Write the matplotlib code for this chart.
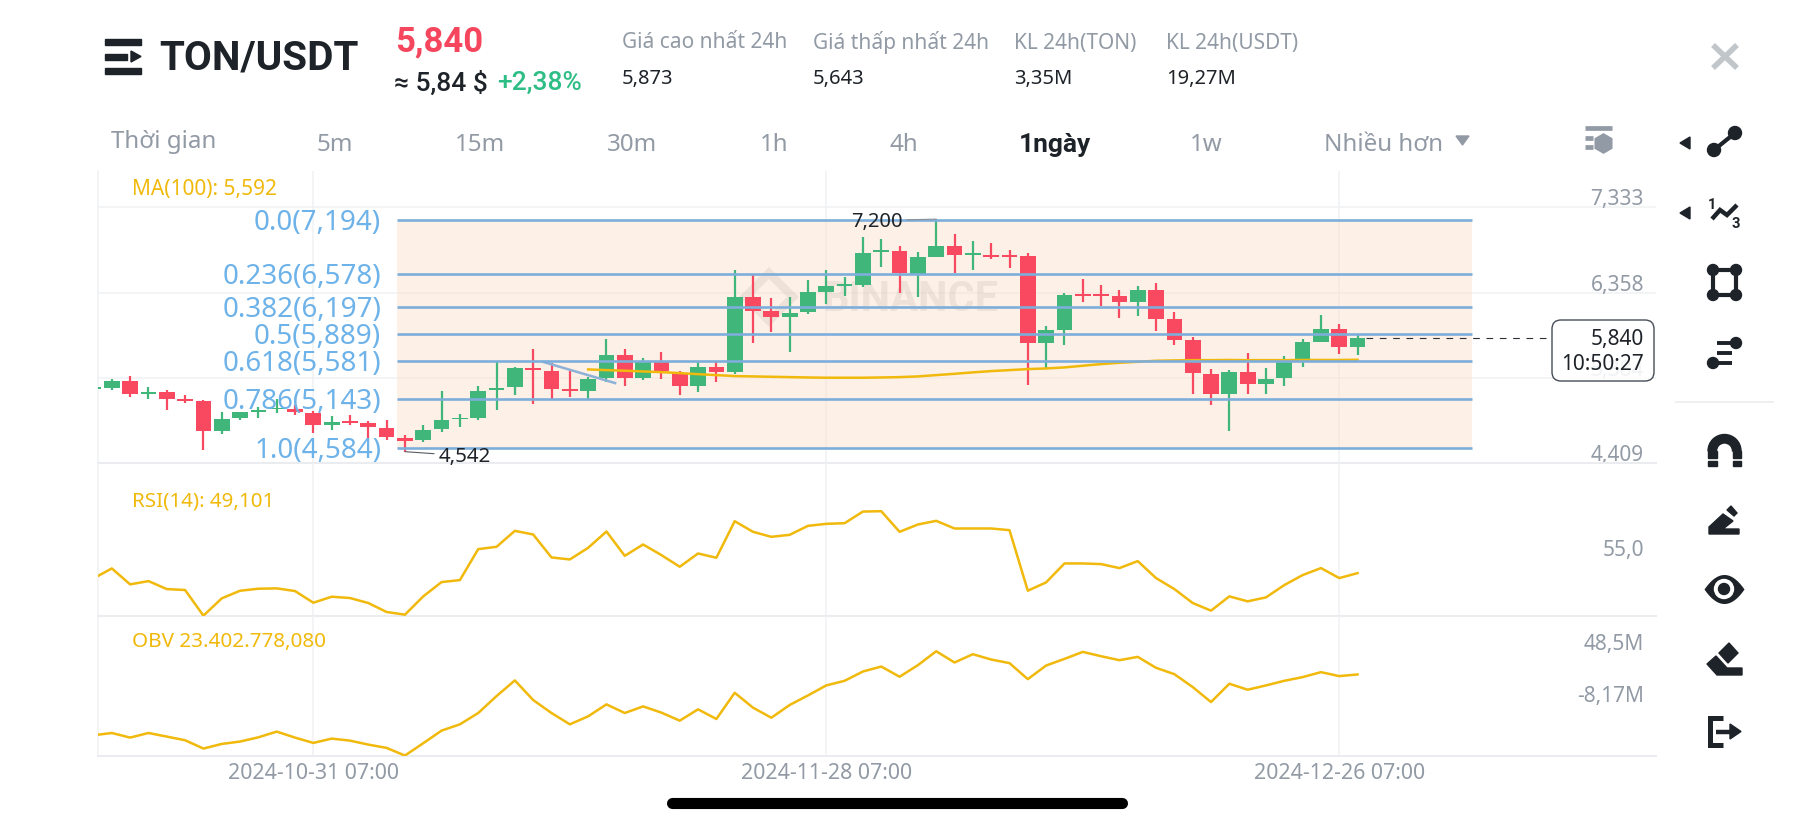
import numpy as np
import matplotlib
matplotlib.use("Agg")
import matplotlib.pyplot as plt
from matplotlib.patches import Circle, FancyBboxPatch, Polygon, Rectangle, Wedge
from matplotlib.transforms import ScaledTranslation

plt.rcParams['font.family'] = ['Noto Sans', 'DejaVu Sans']
BOLD = ['Roboto', 'DejaVu Sans']

# daily candles, index 12 / 40 / 68 are the dated gridlines
opens = [5.257, 5.272, 5.352, 5.196, 5.219, 5.143, 5.124, 4.778, 4.926, 4.999,
         5.025, 5.025, 4.983, 4.850, 4.892, 4.869, 4.812, 4.698, 4.671, 4.801,
         4.911, 4.930, 5.250, 5.276, 5.493, 5.467, 5.257, 5.238, 5.383, 5.645,
         5.383, 5.573, 5.440, 5.291, 5.505, 5.451, 6.311, 6.148, 6.079, 6.136,
         6.372, 6.433, 6.452, 6.825, 6.833, 6.574, 6.772, 6.890, 6.791, 6.794,
         6.794, 6.775, 5.779, 5.938, 6.345, 6.342, 6.326, 6.247, 6.387, 6.056,
         5.813, 5.432, 5.200, 5.448, 5.311, 5.383, 5.592, 5.798, 5.942, 5.733]
closes = [5.276, 5.352, 5.196, 5.219, 5.143, 5.124, 4.778, 4.919, 4.991, 5.021,
          5.040, 4.999, 4.850, 4.884, 4.869, 4.823, 4.706, 4.667, 4.789, 4.900,
          4.930, 5.234, 5.269, 5.493, 5.474, 5.257, 5.238, 5.375, 5.645, 5.383,
          5.573, 5.467, 5.288, 5.505, 5.451, 6.311, 6.155, 6.079, 6.132, 6.368,
          6.433, 6.456, 6.817, 6.848, 6.589, 6.768, 6.890, 6.791, 6.813, 6.772,
          6.772, 5.779, 5.935, 6.338, 6.323, 6.319, 6.247, 6.387, 6.060, 5.820,
          5.440, 5.200, 5.448, 5.314, 5.375, 5.573, 5.794, 5.942, 5.733, 5.840]
highs = [5.280, 5.375, 5.406, 5.284, 5.246, 5.185, 5.132, 4.995, 4.995, 5.052,
         5.147, 5.071, 5.010, 4.945, 4.957, 4.888, 4.907, 4.732, 4.846, 5.234,
         4.976, 5.291, 5.577, 5.512, 5.718, 5.554, 5.463, 5.394, 5.832, 5.718,
         5.615, 5.680, 5.467, 5.584, 5.584, 6.623, 6.562, 6.296, 6.311, 6.505,
         6.616, 6.536, 6.996, 6.977, 6.890, 6.821, 7.200, 7.030, 6.950, 6.928,
         6.848, 6.813, 5.973, 6.357, 6.517, 6.452, 6.395, 6.433, 6.467, 6.144,
         5.858, 5.489, 5.470, 5.668, 5.497, 5.634, 5.832, 6.102, 6.003, 5.873]
lows = [5.246, 5.246, 5.166, 5.147, 5.014, 5.094, 4.561, 4.740, 4.903, 4.930,
        4.983, 4.957, 4.755, 4.793, 4.850, 4.702, 4.675, 4.542, 4.648, 4.763,
        4.827, 4.903, 5.021, 5.185, 5.090, 5.128, 5.170, 5.147, 5.337, 5.291,
        5.360, 5.368, 5.185, 5.223, 5.333, 5.432, 5.779, 5.912, 5.683, 6.110,
        6.231, 6.319, 6.422, 6.657, 6.353, 6.311, 6.772, 6.585, 6.619, 6.745,
        6.642, 5.299, 5.497, 5.763, 6.258, 6.212, 6.072, 6.098, 5.916, 5.760,
        5.196, 5.075, 4.774, 5.204, 5.196, 5.291, 5.508, 5.794, 5.653, 5.643]

ma_start = 27
ma100 = [5.482, 5.474, 5.467, 5.459, 5.451, 5.440, 5.428, 5.417, 5.406, 5.402,
         5.398, 5.394, 5.390, 5.387, 5.387, 5.387, 5.390, 5.394, 5.402, 5.417,
         5.432, 5.448, 5.463, 5.474, 5.486, 5.493, 5.505, 5.524, 5.543, 5.558,
         5.569, 5.581, 5.585, 5.588, 5.588, 5.590, 5.588, 5.588, 5.588, 5.590,
         5.590, 5.590, 5.592]

rsi = [47.88, 50.17, 46.50, 47.26, 45.42, 45.20, 39.30, 43.28, 45.04, 45.50,
       45.58, 44.97, 42.28, 43.66, 43.36, 42.21, 40.14, 39.53, 43.74, 47.03,
       47.49, 54.62, 55.15, 58.83, 57.99, 52.70, 52.24, 54.92, 58.68, 53.08,
       55.69, 53.24, 50.56, 53.62, 52.63, 61.05, 58.60, 57.45, 57.91, 59.98,
       60.44, 60.59, 63.27, 63.35, 58.60, 60.29, 61.13, 59.37, 59.37, 59.37,
       58.98, 45.04, 46.96, 51.32, 51.32, 51.17, 50.25, 51.86, 47.95, 45.42,
       42.21, 40.45, 43.74, 42.59, 43.51, 46.34, 48.64, 50.25, 47.95, 49.10]

obv = [-54.4, -51.9, -56.9, -51.9, -55.8, -59.8, -68.8, -63.8, -61.2, -56.6,
       -50.4, -56.9, -62.7, -58.0, -60.2, -64.5, -68.1, -76.4, -63.0, -49.3,
       -42.5, -30.2, -11.8, 5.2, -16.1, -30.2, -42.5, -33.8, -20.8, -30.2,
       -23.0, -29.8, -38.5, -26.2, -36.7, -8.2, -24.4, -35.3, -21.5, -11.1,
       -0.2, 4.8, 14.9, 20.3, 9.2, 21.8, 36.9, 24.7, 33.7, 27.9,
       24.0, 6.6, 21.4, 28.6, 36.2, 31.5, 27.2, 30.8, 18.9, 12.0,
       -2.0, -18.3, 1.6, -4.9, -0.2, 4.8, 8.8, 14.2, 9.9, 11.7]

fib_ratios = ['0.0', '0.236', '0.382', '0.5', '0.618', '0.786', '1.0']
fib_prices = [7.194, 6.578, 6.197, 5.889, 5.581, 5.143, 4.584]
fib_start, fib_end = 16.57, 75.24
trend_x = [24.57, 28.47]
trend_y = [5.566, 5.326]

date_ticks = [12, 40, 68]
date_labels = ['2024-10-31 07:00', '2024-11-28 07:00', '2024-12-26 07:00']
price_ticks = [7.333, 6.358, 5.384, 4.409]
rsi_ticks = [55.0]
obv_ticks = [48.5, -8.17]
obv_tick_labels = ['48,5M', '-8,17M']

DARK = '#1E2329'
GRAY = '#929AA5'
GOLD = '#F0B90B'
RED = '#F84960'
GREEN = '#41B67A'
TEXT_RED = '#F6465D'
TEXT_GREEN = '#2EBD85'
BLUE = '#7DAEDB'
BLUE_TEXT = '#6DB2E8'
GRID = '#F0F1F3'
SEP = '#EAECEF'

W, H = 1793, 828


def comma(value, digits=3):
    return f"{value:.{digits}f}".replace('.', ',')


fig = plt.figure(figsize=(W / 100, H / 100), dpi=100, facecolor='white')


def make_pane(top, bottom, ylim, ticks, labels):
    left, right = 98, 1656
    ax = fig.add_axes([left / W, 1 - bottom / H, (right - left) / W, (bottom - top) / H])
    ax.set_xlim((left - 93.5) / 18.32, (right - 93.5) / 18.32)
    ax.set_ylim(*ylim)
    ax.set_xticks(date_ticks)
    ax.set_xticklabels([])
    ax.yaxis.tick_right()
    ax.set_yticks(ticks)
    ax.set_yticklabels(labels, ha='right', color=GRAY, fontsize=15)
    ax.tick_params(axis='y', length=0, pad=-8.6)
    ax.tick_params(axis='x', length=0)
    ax.xaxis.grid(True, color=GRID, lw=1.1)
    for side in ['top', 'right']:
        ax.spines[side].set_visible(False)
    ax.spines['left'].set_color(GRID)
    ax.spines['left'].set_linewidth(1.1)
    ax.spines['bottom'].set_color(SEP)
    ax.spines['bottom'].set_linewidth(1.5)
    ax.set_axisbelow(True)
    ax.patch.set_alpha(0)
    return ax


chrome = fig.add_axes([0, 0, 1, 1], zorder=10)
chrome.set_xlim(0, W)
chrome.set_ylim(H, 0)
chrome.axis('off')

ax_price = make_pane(172, 464.3, (4.413, 7.750), price_ticks, [comma(t) for t in price_ticks])
ax_rsi = make_pane(464.3, 617, (39.22, 74.38), rsi_ticks, [comma(t, 1) for t in rsi_ticks])
ax_obv = make_pane(617, 757, (-76.9, 75.2), obv_ticks, obv_tick_labels)

ax_price.yaxis.grid(True, color=GRID, lw=1.1)
nudge = ScaledTranslation(0, -2 / 100, fig.dpi_scale_trans)
for label in ax_price.get_yticklabels():
    label.set_verticalalignment('bottom')
    label.set_transform(label.get_transform() + nudge)
ax_obv.set_xticklabels(date_labels, color=GRAY, fontsize=15.4)
ax_obv.tick_params(axis='x', pad=4)

# price pane
ax_price.add_patch(Rectangle((fib_start, fib_prices[-1]), fib_end - fib_start,
                             fib_prices[0] - fib_prices[-1],
                             facecolor='#FAE0CC', alpha=0.46, edgecolor='none', zorder=1))

ax_price.text(910, 300, 'BINANCE', transform=chrome.transData, color='#B9AFA6', alpha=0.22,
              fontsize=30, family=BOLD, fontweight='bold', ha='center', va='center', zorder=1.5)
ax_price.plot([769], [298], marker='D', ms=24, mfc='none', mec='#B9AFA6', mew=6, alpha=0.22,
              transform=chrome.transData, clip_on=False, zorder=1.5)

xs = np.arange(len(opens))
colors = [GREEN if c >= o else RED for o, c in zip(opens, closes)]
ax_price.vlines(xs, lows, highs, colors=colors, lw=1.6, zorder=3)
ax_price.bar(xs, np.abs(np.array(closes) - np.array(opens)), bottom=np.minimum(opens, closes),
             width=0.86, color=colors, zorder=3.1)

ax_price.plot(np.arange(len(ma100)) + ma_start, ma100, color=GOLD, lw=1.8, zorder=4)
ax_price.plot(trend_x, trend_y, color='#8DB1D6', lw=1.8, zorder=4.5)

ax_price.hlines(fib_prices, fib_start, fib_end, colors=BLUE, lw=1.9, zorder=5)
for ratio, price in zip(fib_ratios, fib_prices):
    ax_price.annotate(f"{ratio}({comma(price)})", (fib_start, price), xytext=(-11.5, -1.5),
                      textcoords='offset points', ha='right', va='center',
                      color=BLUE_TEXT, fontsize=20, zorder=6, annotation_clip=False)

# high / low notes
ax_price.annotate('7,200', (46, highs[46]), xytext=(-24, -1), textcoords='offset points',
                  ha='right', va='center', color=DARK, fontsize=14.5, zorder=7,
                  arrowprops=dict(arrowstyle='-', color='#8A9099', lw=0.8, shrinkA=1, shrinkB=0))
ax_price.annotate('4,542', (17, lows[17]), xytext=(24, -3), textcoords='offset points',
                  ha='left', va='center', color=DARK, fontsize=14.8, zorder=7,
                  arrowprops=dict(arrowstyle='-', color='#555B63', lw=0.8, shrinkA=1, shrinkB=0))

ax_price.hlines(closes[-1], 69.45, 79.56, colors='#2B2F36', lw=0.8, linestyles=(0, (6, 6)), zorder=5.5)

ax_rsi.plot(xs, rsi, color=GOLD, lw=1.8, zorder=4)
ax_obv.plot(xs, obv, color=GOLD, lw=1.8, zorder=4)

chrome.text(132, 189, f"MA(100): {comma(ma100[-1])}", color=GOLD, fontsize=15, va='center')
chrome.text(132, 502, f"RSI(14): {comma(rsi[-1] + 0.001)}", color=GOLD, fontsize=14.8, va='center')
chrome.text(132, 642, 'OBV 23.402.778,080', color=GOLD, fontsize=14.9, va='center')

# price tag
chrome.add_patch(FancyBboxPatch((1552, 321), 102, 61, boxstyle='round,pad=0,rounding_size=9',
                                facecolor=(1, 1, 1, 0.88), edgecolor='#474D57', lw=1.0))
chrome.text(1644, 340, comma(closes[-1]), ha='right', va='center', color=DARK, fontsize=15)
chrome.text(1644, 365, '10:50:27', ha='right', va='center', color=DARK, fontsize=15)

# header
chrome.add_patch(Rectangle((105, 40), 36, 6, color=DARK))
chrome.add_patch(Rectangle((105, 55), 22, 6, color=DARK))
chrome.add_patch(Rectangle((105, 69), 36, 6, color=DARK))
chrome.add_patch(Polygon([(131, 52), (141, 57.5), (131, 63)], color=DARK))
chrome.text(159, 59, 'TON/USDT', color=DARK, fontsize=29.2, family=BOLD, fontweight='bold', va='center')
chrome.text(395, 42, comma(closes[-1]), color=TEXT_RED, fontsize=25, family=BOLD, fontweight='bold', va='center')
chrome.text(394, 83, '≈ 5,84 $', color=DARK, fontsize=19, family=BOLD, fontweight='medium', va='center')
chrome.text(497, 83, '+2,38%', color=TEXT_GREEN, fontsize=19, family=BOLD, fontweight='medium', va='center')

stat_x = [622, 813, 1014, 1166]
stat_names = ['Giá cao nhất 24h', 'Giá thấp nhất 24h', 'KL 24h(TON)', 'KL 24h(USDT)']
stat_values = ['5,873', '5,643', '3,35M', '19,27M']
for x, name, value in zip(stat_x, stat_names, stat_values):
    chrome.text(x, 43, name, color=GRAY, fontsize=15, va='center')
    chrome.text(x, 79, value, color=DARK, fontsize=14.5, va='center')

# interval row
chrome.text(111, 142, 'Thời gian', color=GRAY, fontsize=17.4, va='center')
interval_x = [335, 480, 632, 774, 904, 1206]
interval_names = ['5m', '15m', '30m', '1h', '4h', '1w']
for x, name in zip(interval_x, interval_names):
    chrome.text(x, 145, name, color=GRAY, fontsize=17.4, va='center', ha='center')
chrome.text(1055, 145, '1ngày', color=DARK, fontsize=19, family=BOLD, fontweight='bold', va='center', ha='center')
chrome.text(1324, 145, 'Nhiều hơn', color=GRAY, fontsize=17.4, va='center')
chrome.add_patch(Polygon([(1456, 137), (1469, 137), (1462.5, 146)], color=GRAY))

# settings icon
chrome.plot([1585, 1612], [129, 129], color=GRAY, lw=3.4, solid_capstyle='butt')
chrome.plot([1585, 1593], [139, 139], color=GRAY, lw=3.4, solid_capstyle='butt')
chrome.plot([1585, 1593], [148, 148], color=GRAY, lw=3.4, solid_capstyle='butt')
chrome.plot([1603], [144], marker='h', ms=15, color=GRAY, mew=0)
chrome.add_patch(Circle((1603, 144), 3.5, color='white'))

# toolbar
chrome.plot([1713, 1737], [46, 69], color='#C1C6CB', lw=4, solid_capstyle='butt')
chrome.plot([1713, 1737], [69, 46], color='#C1C6CB', lw=4, solid_capstyle='butt')
for y in [144, 214]:
    chrome.add_patch(Polygon([(1680, y), (1690, y - 6), (1690, y + 6)], color=DARK))

chrome.plot([1714, 1735], [151, 134], color=DARK, lw=3)
chrome.add_patch(Circle((1714, 151), 6.5, color=DARK))
chrome.add_patch(Circle((1735, 134), 6.5, color=DARK))

chrome.plot([1712, 1720, 1727, 1737], [220, 211, 216, 206], color=DARK, lw=3.2,
            solid_joinstyle='miter', solid_capstyle='butt')
chrome.text(1712, 205, '1', color=DARK, fontsize=10.5, family=BOLD, fontweight='bold', ha='center', va='center')
chrome.text(1736, 224, '3', color=DARK, fontsize=10.5, family=BOLD, fontweight='bold', ha='center', va='center')

chrome.add_patch(Rectangle((1713, 271), 23, 25, facecolor='none', edgecolor=DARK, lw=3))
for x, y in [(1713, 271), (1736, 271), (1713, 296), (1736, 296)]:
    chrome.add_patch(Circle((x, y), 5.5, color=DARK))

for y, x0, x1 in [(344, 1717, 1736), (354, 1717, 1732), (364, 1713, 1732)]:
    chrome.plot([x0, x1], [y, y], color=DARK, lw=2.8, solid_capstyle='butt')
chrome.add_patch(Circle((1713, 364), 5.5, color=DARK))
chrome.add_patch(Circle((1736, 344), 5.5, color=DARK))

chrome.plot([1676, 1773], [402.5, 402.5], color=SEP, lw=1.2)

chrome.add_patch(Wedge((1724.5, 452), 16.5, 180, 360, width=8.5, color=DARK))
chrome.add_patch(Rectangle((1708, 452), 8.5, 7, color=DARK))
chrome.add_patch(Rectangle((1732.5, 452), 8.5, 7, color=DARK))
chrome.add_patch(Rectangle((1708, 462), 8.5, 5, color=DARK))
chrome.add_patch(Rectangle((1732.5, 462), 8.5, 5, color=DARK))

chrome.add_patch(Polygon([(1709, 528), (1723, 515), (1733, 522), (1723, 530), (1739, 530),
                          (1739, 535), (1709, 535)], color=DARK))
chrome.add_patch(Polygon([(1731, 507), (1737, 514), (1734, 517), (1727, 511)], color=DARK))

eye_x = np.linspace(1704, 1744, 41)
eye_half = 14.5 * (1 - ((eye_x - 1724) / 20) ** 2)
chrome.fill_between(eye_x, 590 - eye_half, 590 + eye_half, color=DARK, lw=0)
chrome.add_patch(Circle((1724, 590), 9.5, color='white'))
chrome.add_patch(Circle((1724, 590), 5.5, color=DARK))

chrome.add_patch(Polygon([(1729, 644), (1738, 654), (1728, 664), (1719, 654)], color=DARK))
chrome.add_patch(Polygon([(1716, 657), (1727, 669), (1742, 669), (1742, 676), (1717, 676),
                          (1707, 665)], color=DARK))

chrome.plot([1723, 1710, 1710, 1723], [719, 719, 746, 746], color=DARK, lw=3.6,
            solid_joinstyle='miter', solid_capstyle='butt')
chrome.plot([1716, 1732], [732.5, 732.5], color=DARK, lw=3.2, solid_capstyle='butt')
chrome.add_patch(Polygon([(1730, 725), (1741, 732.5), (1730, 740)], color=DARK))

# home indicator
chrome.plot([672, 1122], [804, 804], color='black', lw=8, solid_capstyle='round')

fig.savefig('out.png', dpi=100, facecolor='white')
